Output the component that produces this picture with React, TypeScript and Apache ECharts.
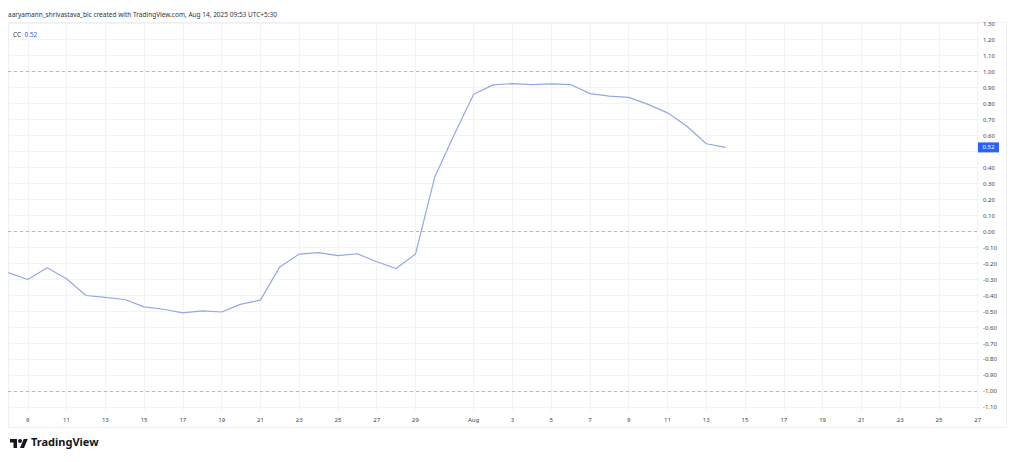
import React, { useEffect, useRef } from "react";
import * as echarts from "echarts";

const dates = [
  "2025-07-08", "2025-07-09", "2025-07-10", "2025-07-11", "2025-07-12", "2025-07-13",
  "2025-07-14", "2025-07-15", "2025-07-16", "2025-07-17", "2025-07-18", "2025-07-19",
  "2025-07-20", "2025-07-21", "2025-07-22", "2025-07-23", "2025-07-24", "2025-07-25",
  "2025-07-26", "2025-07-27", "2025-07-28", "2025-07-29", "2025-07-30", "2025-07-31",
  "2025-08-01", "2025-08-02", "2025-08-03", "2025-08-04", "2025-08-05", "2025-08-06",
  "2025-08-07", "2025-08-08", "2025-08-09", "2025-08-10", "2025-08-11", "2025-08-12",
  "2025-08-13", "2025-08-14",
];

const ccValues = [
  -0.257, -0.3, -0.227, -0.295, -0.4, -0.412,
  -0.425, -0.471, -0.486, -0.509, -0.496, -0.503,
  -0.454, -0.429, -0.221, -0.141, -0.132, -0.151,
  -0.139, -0.189, -0.231, -0.141, 0.343, 0.606,
  0.858, 0.917, 0.925, 0.919, 0.923, 0.919,
  0.862, 0.847, 0.839, 0.795, 0.742, 0.658,
  0.549, 0.526,
];

// grid levels every 0.1
const yGridValues = [
  -1.1, -1.0, -0.9, -0.8, -0.7, -0.6, -0.5, -0.4, -0.3, -0.2, -0.1, 0,
  0.1, 0.2, 0.3, 0.4, 0.5, 0.6, 0.7, 0.8, 0.9, 1.0, 1.1, 1.2, 1.3,
];
// 0.50 label is hidden behind the last-value badge
const yLabelValues = [
  -1.1, -1.0, -0.9, -0.8, -0.7, -0.6, -0.5, -0.4, -0.3, -0.2, -0.1, 0,
  0.1, 0.2, 0.3, 0.4, 0.6, 0.7, 0.8, 0.9, 1.0, 1.1, 1.2, 1.3,
];

const xTickDates = [
  "2025-07-09", "2025-07-11", "2025-07-13", "2025-07-15", "2025-07-17", "2025-07-19",
  "2025-07-21", "2025-07-23", "2025-07-25", "2025-07-27", "2025-07-29", "2025-08-01",
  "2025-08-03", "2025-08-05", "2025-08-07", "2025-08-09", "2025-08-11", "2025-08-13",
  "2025-08-15", "2025-08-17", "2025-08-19", "2025-08-21", "2025-08-23", "2025-08-25",
  "2025-08-27",
];

const dashedLevels = [1, 0, -1];
const xRange = ["2025-07-08", "2025-08-27"];
const monthNames = ["Jan", "Feb", "Mar", "Apr", "May", "Jun", "Jul", "Aug", "Sep", "Oct", "Nov", "Dec"];

const headerText = "aaryamann_shrivastava_bic created with TradingView.com, Aug 14, 2025 09:53 UTC+5:30";
const indicatorName = "CC";
const lastValueText = "0.52";

const BASE = Date.UTC(2025, 6, 0);
const DAY = 86400000;
const dayIndex = (s: string) => (Date.parse(s + "T00:00:00Z") - BASE) / DAY;

const TV_LOGO = "M14 22H7V11H0V4h14v18zM28 22h-8l7.5-18h8L28 22zM24 8a4 4 0 1 1-8 0a4 4 0 1 1 8 0z";
echarts.graphic.registerShape("tvlogo", (echarts.graphic as any).extendPath(TV_LOGO, {}));

const FONT = "'Noto Sans', 'Open Sans', sans-serif";

export default function App() {
  const ref = useRef<HTMLDivElement>(null);
  useEffect(() => {
    if (!ref.current) return;
    const chart = echarts.init(ref.current, undefined, { renderer: "svg" });
    const seriesData = dates.map((d, i) => [dayIndex(d), ccValues[i]]);
    const xMin = dayIndex(xRange[0]) - 0.02;
    const xMax = dayIndex(xRange[1]) + 0.12;
    const last = seriesData[seriesData.length - 1];
    chart.setOption({
      animation: false,
      backgroundColor: "#ffffff",
      textStyle: { fontFamily: FONT },
      grid: { left: 8, right: 44, top: 22, bottom: 51, containLabel: false },
      xAxis: {
        type: "value",
        min: xMin,
        max: xMax,
        axisLine: { show: false },
        axisTick: { show: false, customValues: xTickDates.map(dayIndex) },
        axisLabel: {
          customValues: xTickDates.map(dayIndex),
          color: "#444",
          fontSize: 6,
          margin: 6,
          fontFamily: FONT,
          formatter: (v: number) => {
            const d = new Date(BASE + Math.round(v) * DAY);
            return d.getUTCDate() === 1 ? monthNames[d.getUTCMonth()] : String(d.getUTCDate());
          },
        },
        splitLine: { show: true, lineStyle: { color: "#f1f3f7", width: 1 } },
      },
      yAxis: {
        type: "value",
        position: "right",
        min: -1.122,
        max: 1.31,
        axisLine: { show: false },
        axisTick: { show: false, customValues: yGridValues },
        axisLabel: {
          customValues: yLabelValues,
          color: "#444",
          fontSize: 6,
          margin: 3,
          fontFamily: FONT,
          formatter: (v: number) => (Math.abs(v) < 1e-9 ? "0.00" : v.toFixed(2)),
        },
        splitLine: { show: true, lineStyle: { color: "#f1f3f7", width: 1 } },
      },
      series: [
        {
          type: "line",
          name: indicatorName,
          data: seriesData,
          showSymbol: false,
          symbol: "none",
          lineStyle: { color: "#93a9e2", width: 1.2 },
          markLine: {
            silent: true,
            symbol: "none",
            label: { show: false },
            lineStyle: { color: "#b7b9c0", type: [3, 3], width: 1 },
            data: dashedLevels.map((v) => ({ yAxis: v })),
          },
          markPoint: {
            silent: true,
            symbol: "rect",
            symbolSize: [21, 10],
            symbolOffset: [8.5, 0],
            itemStyle: { color: "#2962ff" },
            label: { show: true, color: "#fff", fontSize: 6, fontFamily: FONT, formatter: lastValueText },
            data: [{ coord: [xMax, last[1]] }],
          },
        },
      ],
      graphic: [
        {
          type: "rect",
          silent: true,
          shape: { x: 8.5, y: 22.5, width: 998, height: 405 },
          style: { fill: "none", stroke: "#eeeff2", lineWidth: 1 },
        },
        {
          type: "text",
          left: 8,
          top: 11,
          style: { text: headerText, fill: "#333", fontSize: 6.5, fontFamily: FONT },
        },
        {
          type: "text",
          left: 13,
          top: 28,
          style: {
            text: "{a|" + indicatorName + "} {b|" + lastValueText + "}",
            rich: {
              a: { fill: "#333", fontSize: 6.5, fontFamily: FONT },
              b: { fill: "#2962ff", fontSize: 6.5, fontFamily: FONT },
            },
          },
        },
        {
          type: "tvlogo",
          x: 10,
          y: 437,
          scaleX: 0.5,
          scaleY: 0.5,
          style: { fill: "#131722" },
        },
        {
          type: "text",
          left: 31,
          top: 436,
          style: { text: "TradingView", fill: "#131722", fontSize: 11, fontWeight: "bold", fontFamily: FONT },
        },
      ],
    });
    return () => chart.dispose();
  }, []);
  return <div ref={ref} style={{ position: "absolute", left: 0, top: 0, width: 1024, height: 462 }} />;
}
